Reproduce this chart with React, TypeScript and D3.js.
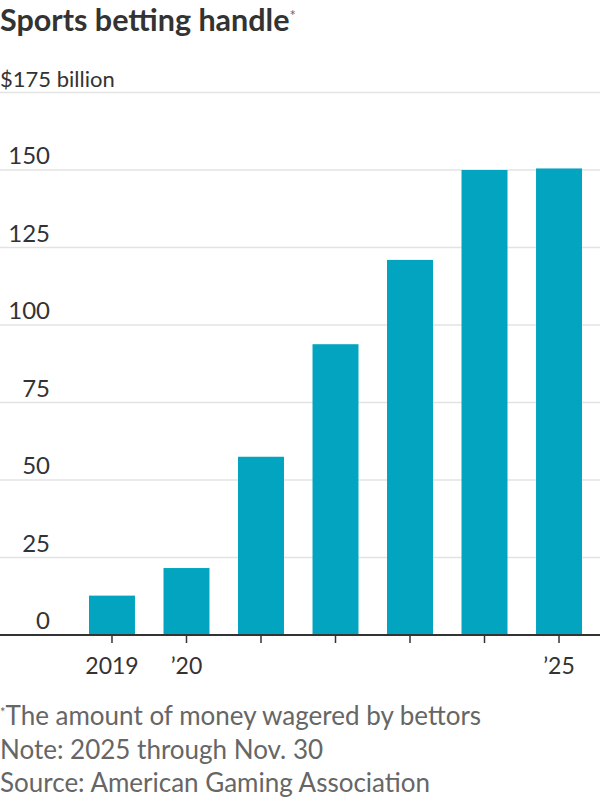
import { useEffect, useRef } from 'react';
import * as d3 from 'd3';

const years = ['2019', '2020', '2021', '2022', '2023', '2024', '2025'];
const handle = [12.7, 21.6, 57.5, 93.8, 121, 150, 150.5];
const yTicks = [0, 25, 50, 75, 100, 125, 150, 175];
const xLabels: Record<string, string> = { '2019': '2019', '2020': '\u201920', '2025': '\u201925' };
const footnotes = ['The amount of money wagered by bettors', 'Note: 2025 through Nov. 30', 'Source: American Gaming Association'];

const W = 600;
const H = 800;
const FONT = 'Lato, "DejaVu Sans", sans-serif';

export default function App() {
  const svgRef = useRef<SVGSVGElement>(null);

  useEffect(() => {
    if (!svgRef.current) return;
    const svg = d3.select(svgRef.current);
    svg.selectAll('*').remove();

    const y = d3.scaleLinear().domain([0, 175]).range([635, 92.5]);
    const x = d3.scaleBand().domain(years).range([89, 582]).paddingInner(0.383).paddingOuter(0);

    // title
    const title = svg.append('text')
      .attr('x', 0).attr('y', 31)
      .style('font-family', FONT).style('font-weight', 700).style('font-size', '30.5px')
      .style('fill', '#333');
    title.append('tspan').text('Sports betting handle');
    title.append('tspan').attr('dy', -10).style('font-size', '15px').style('font-weight', 400).style('fill', '#666').text('*');

    // gridlines
    svg.append('g').selectAll('line')
      .data(yTicks.filter((d) => d > 0))
      .enter().append('line')
      .attr('x1', 0).attr('x2', W)
      .attr('y1', (d) => y(d)).attr('y2', (d) => y(d))
      .attr('stroke', '#e3e3e3').attr('stroke-width', 1.5);

    // y labels
    svg.append('g').selectAll('text')
      .data(yTicks)
      .enter().append('text')
      .attr('x', (d) => (d === 175 ? 0 : 50))
      .attr('y', (d) => y(d) - 6)
      .attr('text-anchor', (d) => (d === 175 ? 'start' : 'end'))
      .style('font-family', FONT).style('font-size', (d) => (d === 175 ? '22px' : '24px')).style('fill', '#333')
      .text((d) => (d === 175 ? '$175 billion' : String(d)));

    // bars
    svg.append('g').selectAll('rect')
      .data(years)
      .enter().append('rect')
      .attr('x', (d) => x(d) || 0)
      .attr('width', x.bandwidth())
      .attr('y', (d, i) => y(handle[i]))
      .attr('height', (d, i) => y(0) - y(handle[i]))
      .attr('fill', '#02a4bf');

    // x axis
    svg.append('line')
      .attr('x1', 0).attr('x2', W).attr('y1', y(0)).attr('y2', y(0))
      .attr('stroke', '#333').attr('stroke-width', 2);

    svg.append('g').selectAll('line')
      .data(years)
      .enter().append('line')
      .attr('x1', (d) => (x(d) || 0) + x.bandwidth() / 2)
      .attr('x2', (d) => (x(d) || 0) + x.bandwidth() / 2)
      .attr('y1', y(0)).attr('y2', y(0) + 8)
      .attr('stroke', '#333').attr('stroke-width', 1.5);

    svg.append('g').selectAll('text')
      .data(years.filter((d) => xLabels[d]))
      .enter().append('text')
      .attr('x', (d) => (x(d) || 0) + x.bandwidth() / 2)
      .attr('y', 674)
      .attr('text-anchor', 'middle')
      .style('font-family', FONT).style('font-size', '23px').style('fill', '#333')
      .text((d) => xLabels[d]);

    // footer
    const foot = svg.append('g')
      .style('font-family', FONT).style('font-size', '26px').style('fill', '#666');
    footnotes.forEach((t, i) => {
      const line = foot.append('text').attr('x', 0).attr('y', 725 + i * 33.5);
      if (i === 0) {
        line.append('tspan').attr('dy', -8).style('font-size', '13px').text('*');
        line.append('tspan').attr('dy', 8).text(t);
      } else {
        line.text(t);
      }
    });
  }, []);

  return <svg ref={svgRef} width={W} height={H} style={{ display: 'block', position: 'absolute', left: 0, top: 0 }} />;
}
